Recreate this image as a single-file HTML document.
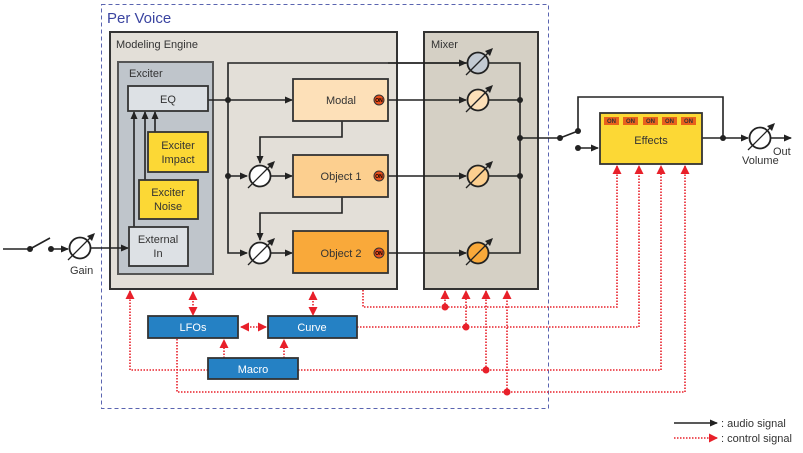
<!DOCTYPE html>
<html><head><meta charset="utf-8"><style>
body{margin:0;background:#fff}
svg{display:block;font-family:"Liberation Sans",sans-serif}
</style></head><body>
<svg width="803" height="453" viewBox="0 0 803 453" xmlns="http://www.w3.org/2000/svg">
<defs>
<marker id="a" markerWidth="8" markerHeight="8" refX="7" refY="4" orient="auto" markerUnits="userSpaceOnUse"><path d="M0,0.5 L8,4 L0,7.5z" fill="#222"/></marker>
<marker id="r" markerWidth="9" markerHeight="9" refX="8" refY="4.5" orient="auto" markerUnits="userSpaceOnUse"><path d="M0,0 L9,4.5 L0,9z" fill="#e8202a"/></marker>
<marker id="rs" markerWidth="9" markerHeight="9" refX="1" refY="4.5" orient="auto" markerUnits="userSpaceOnUse"><path d="M9,0 L0,4.5 L9,9z" fill="#e8202a"/></marker>
<g id="kn"><circle r="10.5" stroke="#222" stroke-width="1.8"/><line x1="-12" y1="12" x2="11" y2="-11" stroke="#222" stroke-width="1.3"/><path d="M15,-15 L7,-12 L12,-7z" fill="#222"/></g>
</defs>
<rect x="101.5" y="4.5" width="447" height="404" fill="none" stroke="#5a64b0" stroke-dasharray="4,3"/>
<text x="107" y="23" font-size="15" fill="#3a44a0">Per Voice</text>
<rect x="110" y="32" width="287" height="257" fill="#e3dfd8" stroke="#333" stroke-width="2"/>
<text x="116" y="48" font-size="11" fill="#333">Modeling Engine</text>
<rect x="118" y="62" width="95" height="212" fill="#bfc5cb" stroke="#555" stroke-width="2"/>
<text x="129" y="77" font-size="11" fill="#333">Exciter</text>
<rect x="424" y="32" width="114" height="257" fill="#d5d0c5" stroke="#333" stroke-width="2"/>
<text x="431" y="48" font-size="11" fill="#333">Mixer</text>
<g stroke="#222" stroke-width="1.6" fill="none">
<line x1="3" y1="249" x2="30" y2="249"/><line x1="30" y1="249" x2="50" y2="238"/>
<line x1="51" y1="249" x2="68" y2="249" marker-end="url(#a)"/>
<line x1="91" y1="248" x2="128" y2="248" marker-end="url(#a)"/>
<line x1="134" y1="227" x2="134" y2="112" marker-end="url(#a)"/>
<line x1="145" y1="180" x2="145" y2="112" marker-end="url(#a)"/>
<line x1="155" y1="132" x2="155" y2="112" marker-end="url(#a)"/>
<line x1="208" y1="100" x2="292" y2="100" marker-end="url(#a)"/>
<polyline points="478,63 228,63 228,253 247,253" marker-end="url(#a)"/>
<line x1="228" y1="176" x2="247" y2="176" marker-end="url(#a)"/>
<line x1="271" y1="176" x2="292" y2="176" marker-end="url(#a)"/>
<line x1="271" y1="253" x2="292" y2="253" marker-end="url(#a)"/>
<polyline points="342,121 342,137 260,137 260,163" marker-end="url(#a)"/>
<polyline points="342,197 342,213 260,213 260,240" marker-end="url(#a)"/>
<line x1="388" y1="63" x2="466" y2="63" marker-end="url(#a)"/>
<line x1="388" y1="100" x2="466" y2="100" marker-end="url(#a)"/>
<line x1="388" y1="176" x2="466" y2="176" marker-end="url(#a)"/>
<line x1="388" y1="253" x2="466" y2="253" marker-end="url(#a)"/>
<polyline points="488,63 520,63 520,253 488,253"/>
<line x1="488" y1="100" x2="520" y2="100"/><line x1="488" y1="176" x2="520" y2="176"/>
<line x1="520" y1="138" x2="560" y2="138"/><line x1="560" y1="138" x2="578" y2="131"/>
<polyline points="578,131 578,97 723,97 723,138"/>
<line x1="578" y1="148" x2="598" y2="148" marker-end="url(#a)"/>
<line x1="702" y1="138" x2="748" y2="138" marker-end="url(#a)"/>
<line x1="771" y1="138" x2="791" y2="138" marker-end="url(#a)"/>
<line x1="674" y1="423" x2="717" y2="423" marker-end="url(#a)"/>
</g>
<g fill="#222"><circle cx="30" cy="249" r="3"/><circle cx="51" cy="249" r="3"/><circle cx="228" cy="100" r="3"/><circle cx="228" cy="176" r="3"/><circle cx="520" cy="100" r="3"/><circle cx="520" cy="138" r="3"/><circle cx="520" cy="176" r="3"/><circle cx="560" cy="138" r="3"/><circle cx="578" cy="131" r="3"/><circle cx="578" cy="148" r="3"/><circle cx="723" cy="138" r="3"/></g>
<rect x="128" y="86" width="80" height="25" fill="#dde1e5" stroke="#333" stroke-width="1.8"/>
<text x="168" y="103" font-size="11" text-anchor="middle" fill="#333">EQ</text>
<rect x="148" y="132" width="60" height="40" fill="#fcd835" stroke="#333" stroke-width="1.8"/>
<text x="178" y="149" font-size="11" text-anchor="middle" fill="#333">Exciter</text><text x="178" y="163" font-size="11" text-anchor="middle" fill="#333">Impact</text>
<rect x="139" y="180" width="59" height="39" fill="#fcd835" stroke="#333" stroke-width="1.8"/>
<text x="168" y="196" font-size="11" text-anchor="middle" fill="#333">Exciter</text><text x="168" y="210" font-size="11" text-anchor="middle" fill="#333">Noise</text>
<rect x="129" y="227" width="59" height="39" fill="#dde1e5" stroke="#333" stroke-width="1.8"/>
<text x="158" y="243" font-size="11" text-anchor="middle" fill="#333">External</text><text x="158" y="257" font-size="11" text-anchor="middle" fill="#333">In</text>
<rect x="293" y="79" width="95" height="42" fill="#fde0b8" stroke="#333" stroke-width="1.8"/>
<text x="341" y="104" font-size="11" text-anchor="middle" fill="#333">Modal</text>
<rect x="293" y="155" width="95" height="42" fill="#fccf8f" stroke="#333" stroke-width="1.8"/>
<text x="341" y="180" font-size="11" text-anchor="middle" fill="#333">Object 1</text>
<rect x="293" y="231" width="95" height="42" fill="#f9a93a" stroke="#333" stroke-width="1.8"/>
<text x="341" y="257" font-size="11" text-anchor="middle" fill="#333">Object 2</text>
<g font-size="5" text-anchor="middle" font-weight="bold">
<circle cx="379" cy="100" r="5" fill="#e84e1b" stroke="#333"/><text x="379" y="102">ON</text>
<circle cx="379" cy="176" r="5" fill="#e84e1b" stroke="#333"/><text x="379" y="178">ON</text>
<circle cx="379" cy="253" r="5" fill="#e84e1b" stroke="#333"/><text x="379" y="255">ON</text>
</g>
<use href="#kn" x="80" y="248" fill="#fff"/>
<use href="#kn" x="260" y="176" fill="#fff"/>
<use href="#kn" x="260" y="253" fill="#fff"/>
<use href="#kn" x="478" y="63" fill="#c3cad2"/>
<use href="#kn" x="478" y="100" fill="#fde0b8"/>
<use href="#kn" x="478" y="176" fill="#fccf8f"/>
<use href="#kn" x="478" y="253" fill="#f9a93a"/>
<use href="#kn" x="760" y="138" fill="#fff"/>
<text x="70" y="274" font-size="11" fill="#333">Gain</text>
<text x="742" y="164" font-size="11" fill="#333">Volume</text>
<text x="773" y="155" font-size="11" fill="#333">Out</text>
<rect x="600" y="113" width="102" height="51" fill="#fcd835" stroke="#333" stroke-width="1.8"/>
<g font-size="6" font-weight="bold" text-anchor="middle" fill="#333">
<rect x="604" y="117" width="15" height="8" fill="#e8601c"/><text x="611.5" y="123">ON</text>
<rect x="623" y="117" width="15" height="8" fill="#e8601c"/><text x="630.5" y="123">ON</text>
<rect x="643" y="117" width="15" height="8" fill="#e8601c"/><text x="650.5" y="123">ON</text>
<rect x="662" y="117" width="15" height="8" fill="#e8601c"/><text x="669.5" y="123">ON</text>
<rect x="681" y="117" width="15" height="8" fill="#e8601c"/><text x="688.5" y="123">ON</text>
</g>
<text x="651" y="144" font-size="11" text-anchor="middle" fill="#333">Effects</text>
<g stroke="#e8202a" stroke-width="1.6" stroke-dasharray="1.5,1.5" fill="none">
<polyline points="208,370 130,370 130,291" marker-end="url(#r)"/>
<line x1="193" y1="292" x2="193" y2="315" marker-start="url(#rs)" marker-end="url(#r)"/>
<line x1="313" y1="292" x2="313" y2="315" marker-start="url(#rs)" marker-end="url(#r)"/>
<line x1="241" y1="327" x2="266" y2="327" marker-start="url(#rs)" marker-end="url(#r)"/>
<line x1="224" y1="358" x2="224" y2="340" marker-end="url(#r)"/>
<line x1="284" y1="358" x2="284" y2="340" marker-end="url(#r)"/>
<polyline points="177,339 177,392 685,392 685,166" marker-end="url(#r)"/>
<polyline points="363,290 363,307 617,307 617,166" marker-end="url(#r)"/>
<polyline points="357,327 639,327 639,166" marker-end="url(#r)"/>
<polyline points="298,370 661,370 661,166" marker-end="url(#r)"/>
<line x1="445" y1="307" x2="445" y2="291" marker-end="url(#r)"/>
<line x1="466" y1="327" x2="466" y2="291" marker-end="url(#r)"/>
<line x1="486" y1="370" x2="486" y2="291" marker-end="url(#r)"/>
<line x1="507" y1="392" x2="507" y2="291" marker-end="url(#r)"/>
<line x1="674" y1="438" x2="717" y2="438" marker-end="url(#r)"/>
</g>
<g fill="#e8202a"><circle cx="445" cy="307" r="3.5"/><circle cx="466" cy="327" r="3.5"/><circle cx="486" cy="370" r="3.5"/><circle cx="507" cy="392" r="3.5"/></g>
<g stroke="#333" stroke-width="1.8" fill="#2581c4">
<rect x="148" y="316" width="90" height="22"/><rect x="268" y="316" width="89" height="22"/><rect x="208" y="358" width="90" height="21"/>
</g>
<g font-size="11" text-anchor="middle" fill="#fff">
<text x="193" y="331">LFOs</text><text x="312" y="331">Curve</text><text x="253" y="373">Macro</text>
</g>
<text x="721" y="427" font-size="11" fill="#333">: audio signal</text>
<text x="721" y="442" font-size="11" fill="#333">: control signal</text>
</svg>
</body></html>
